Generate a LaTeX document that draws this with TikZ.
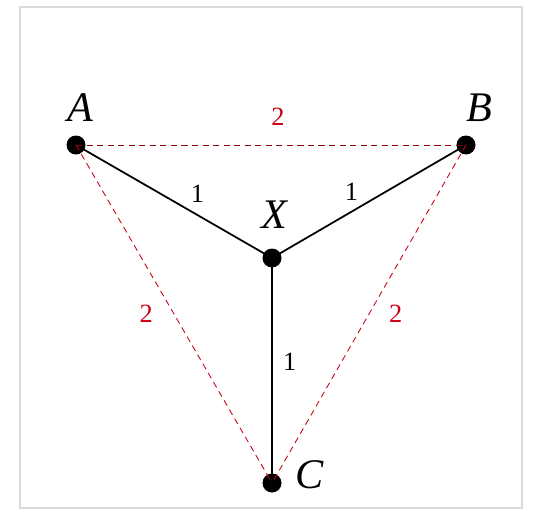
\documentclass[tikz,border=0pt]{standalone}
\usepackage{fontspec}
\setmainfont{Liberation Serif}
\definecolor{distred}{RGB}{204,0,20}
\begin{document}
\begin{tikzpicture}[x=0.02cm,y=-0.02cm]
\tikzstyle{vertex}=[circle,fill=black,inner sep=0pt,minimum size=0.38cm]
\tikzstyle{vname}=[font=\fontsize{24}{27}\selectfont\itshape,inner sep=0pt]
\tikzstyle{weight}=[font=\fontsize{15}{17}\selectfont,inner sep=1pt]
\tikzstyle{far}=[distred,line width=0.5pt,dash pattern=on 3.5pt off 2.5pt]
\useasboundingbox (0,0) rectangle (536,524);
\draw[black!15,line width=0.8pt] (20,7) rectangle (522,508);
\node[vertex](a) at (76,145) {};
\node[vertex](b) at (466,145) {};
\node[vertex](x) at (272,258) {};
\node[vertex](c) at (272,483) {};
\node[vname](la) at (80,108) {A};
\node[vname](lb) at (479,108) {B};
\node[vname](lx) at (274,215) {X};
\node[vname](lc) at (310,475) {C};
\draw[line width=1pt] (a.center) -- (x.center) node[weight,pos=0.62,above=0.2cm]{1};
\draw[line width=1pt] (x.center) -- (b.center) node[weight,pos=0.41,above=0.18cm]{1};
\draw[line width=1pt] (x.center) -- (c.center) node[weight,pos=0.46,right=0.17cm]{1};
\draw[far,distred!70!black] (a.center) -- (b.center) node[weight,distred,pos=0.518,above=0.34cm]{2};
\draw[far] (a.center) -- (c.center) node[weight,pos=0.5,left=0.38cm]{2};
\draw[far] (b.center) -- (c.center) node[weight,pos=0.5,right=0.36cm]{2};
\end{tikzpicture}
\end{document}
